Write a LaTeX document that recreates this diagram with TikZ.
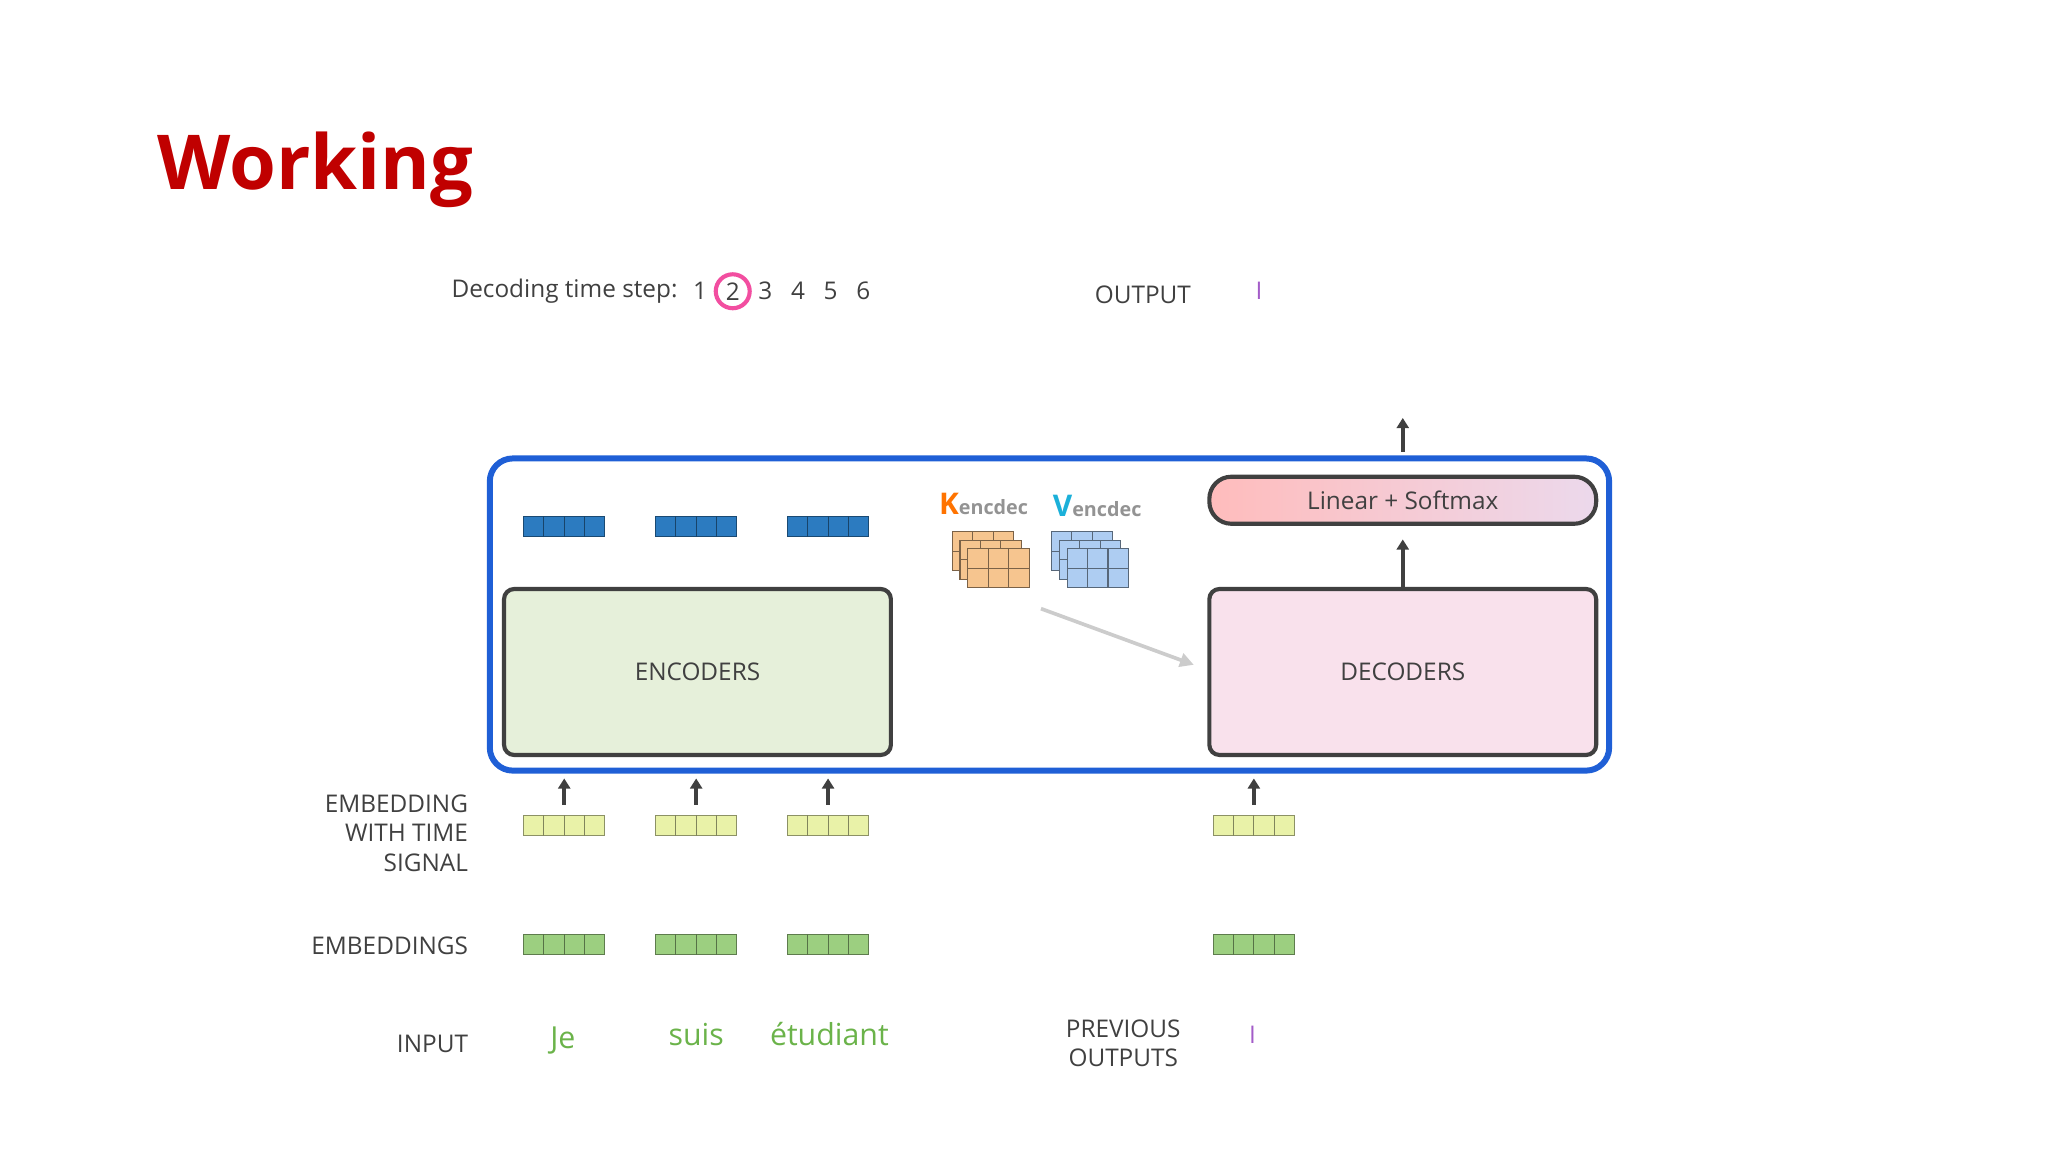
\documentclass[tikz,border=0pt]{standalone}
\usepackage{fontspec}
\setmainfont{Open Sans}
\usetikzlibrary{positioning,arrows.meta,calc}
\definecolor{titlered}{HTML}{C00000}
\definecolor{txtgray}{HTML}{404040}
\definecolor{boxblue}{HTML}{1F5FD6}
\definecolor{vecblue}{HTML}{2C7BC0}
\definecolor{encgreen}{HTML}{E6F0DA}
\definecolor{decpink}{HTML}{F9E1EC}
\definecolor{embyellow}{HTML}{E9F2A8}
\definecolor{embgreen}{HTML}{9CCF80}
\definecolor{wordgreen}{HTML}{6BB34A}
\definecolor{kor}{HTML}{F6C58F}
\definecolor{vbl}{HTML}{AECDF2}
\definecolor{outpurple}{HTML}{A35CC8}
\tikzset{
  lbl/.style={font=\fontsize{5.3}{6.4}\selectfont, text=txtgray},
  bigbox/.style={draw=txtgray, line width=0.9pt, rounded corners=2.2pt, minimum width=2.96cm, minimum height=1.27cm},
  vec/.style={draw=#1!60!black, fill=#1, line width=0.2pt, minimum width=0.62cm, minimum height=0.15cm, inner sep=0pt},
  uparrow/.style={-{Triangle[length=2.2pt,width=2.6pt]}, line width=0.9pt, draw=txtgray},
}
\newcommand{\stack}[3]{% x, y, colour
  \foreach \d in {0,1,2} {
    \begin{scope}[shift={(#1+6*\d,#2+6.5*\d)}]
      \fill[#3] (0,0) rectangle (47,30);
      \foreach \u in {15.67,31.33} \draw[#3!50!black, line width=0.25pt] (\u,0) -- (\u,30);
      \draw[#3!50!black, line width=0.25pt] (0,15) -- (47,15);
      \draw[#3!50!black, line width=0.25pt] (0,0) rectangle (47,30);
    \end{scope}}}
\begin{document}
\begin{tikzpicture}[x=0.01cm, y=-0.01cm]
    \useasboundingbox (0,0) rectangle (1568,882);

    \node[font=\fontsize{16.5}{20}\bfseries\selectfont, text=titlered, anchor=west, inner sep=0pt] (title) at (120,130) {Working};

    \node[lbl, anchor=west, inner sep=0pt] (steps) at (345,223) {Decoding time step:};
    \foreach \n [count=\i] in {1,...,6}
      \node[lbl, inner sep=0pt] (step\i) at (511+25*\i,223) {\n};
    \draw[magenta!60!pink, line width=0.9pt] (step2) circle (13);
    \node[lbl] (output) at (875,226) {OUTPUT};
    \node[lbl, text=outpurple] (out1) at (964,223) {I};

    \draw[boxblue, line width=1.3pt, rounded corners=5pt] (375,351) rectangle (1232,590);

    \node[bigbox, fill=encgreen] (enc) at (534,514.5) {};
    \node[lbl] at (enc) {ENCODERS};
    \node[bigbox, fill=decpink] (dec) at (1074,514.5) {};
    \node[lbl] at (dec) {DECODERS};

    \node[draw=txtgray, line width=0.9pt, rounded corners=4.8pt, left color=pink!75!red!60, right color=violet!15,
          minimum width=2.96cm, minimum height=0.36cm, inner sep=0pt, lbl] (soft) at (1074,383) {Linear + Softmax};
    \coordinate (softb) at (1074,413);
    \coordinate (outtop) at (1074,320);
    \coordinate (outbot) at (1074,346);
    \draw[uparrow] (dec.north) -- (softb);
    \draw[uparrow] (outbot) -- (outtop);

    % encoder outputs and embeddings
    \foreach \x [count=\i] in {432,533,634} {
      \node[vec=vecblue] (top\i) at (\x,403) {};
      \node[vec=embyellow] (ts\i) at (\x,632) {};
      \node[vec=embgreen] (emb\i) at (\x,723) {};
      \draw[uparrow] (\x,616) -- (\x,596);
    }
    \node[vec=embyellow] (ts4) at (960,632) {};
    \node[vec=embgreen] (emb4) at (960,723) {};
    \draw[uparrow] (960,616) -- (960,596);
    \foreach \n/\c in {top1/vecblue,top2/vecblue,top3/vecblue,ts1/embyellow,ts2/embyellow,ts3/embyellow,ts4/embyellow,emb1/embgreen,emb2/embgreen,emb3/embgreen,emb4/embgreen}
      \foreach \k in {1,2,3} \draw[\c!55!black, line width=0.2pt] ($(\n.south west)!\k/4!(\n.south east)$) -- ($(\n.north west)!\k/4!(\n.north east)$);

    % keys and values
    \node[font=\fontsize{4.3}{5}\bfseries\selectfont, text=gray!85, inner sep=0pt] (klbl) at (753,386) {\textcolor{orange!90!red}{\fontsize{6.5}{7}\selectfont K}encdec};
    \node[font=\fontsize{4.3}{5}\bfseries\selectfont, text=gray!85, inner sep=0pt] (vlbl) at (840,387) {\textcolor{vecblue!60!cyan}{\fontsize{6.5}{7}\selectfont V}encdec};
    \stack{729}{407}{kor}
    \stack{805}{407}{vbl}
    \coordinate (kvout) at (797,466);
    \coordinate (decin) at (914,509);
    \draw[-{Triangle[length=3pt,width=3pt]}, gray!40, line width=0.8pt] (kvout) -- (decin);

    % left labels
    \node[lbl, align=right, anchor=east, inner sep=0pt] (lts) at (359,638) {EMBEDDING\\WITH TIME\\SIGNAL};
    \node[lbl, anchor=east, inner sep=0pt] (lemb) at (359,724) {EMBEDDINGS};
    \node[lbl, anchor=east, inner sep=0pt] (lin) at (359,799) {INPUT};

    \node[lbl, text=wordgreen, font=\fontsize{6.6}{8}\selectfont] (w1) at (431,797) {Je};
    \node[lbl, text=wordgreen, font=\fontsize{6.6}{8}\selectfont] (w2) at (533,792) {suis};
    \node[lbl, text=wordgreen, font=\fontsize{6.6}{8}\selectfont] (w3) at (635,792) {étudiant};
    \node[lbl, align=center] (prev) at (860,799) {PREVIOUS\\OUTPUTS};
    \node[lbl, text=outpurple] (prev1) at (959,792) {I};

\end{tikzpicture}
\end{document}
